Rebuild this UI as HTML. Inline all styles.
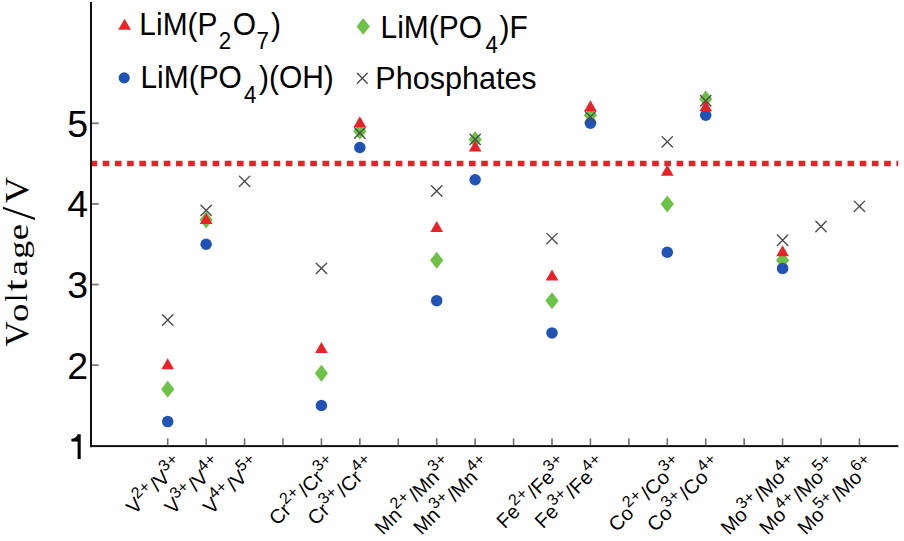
<!DOCTYPE html>
<html><head><meta charset="utf-8"><style>
html,body{margin:0;padding:0;background:#fff;}
svg{display:block;}
.tl{font-family:"Liberation Sans",sans-serif;font-size:37.5px;fill:#000;}
.yt{font-family:"Liberation Serif",serif;font-size:100px;fill:#000;}
.lg{font-family:"Liberation Sans",sans-serif;font-size:31.4px;fill:#000;}
.sb{font-size:21px;}
.xl{font-family:"Liberation Sans",sans-serif;font-size:20px;fill:#000;}
.sp{font-size:16px;}
.pl{font-size:16px;}
</style></head><body>
<svg width="904" height="541" viewBox="0 0 904 541">
<rect width="904" height="541" fill="#fff"/>
<line x1="90.5" y1="163.55" x2="898.2" y2="163.55" stroke="#ec2127" stroke-width="5.6" stroke-dasharray="6.6 5.61"/>
<rect x="90" y="2" width="2" height="445.2" fill="#111"/>
<rect x="90" y="445.1" width="808.4" height="2" fill="#111"/>
<rect x="92" y="364.27" width="6.7" height="1.8" fill="#7a7a7a"/>
<rect x="92" y="283.64" width="6.7" height="1.8" fill="#7a7a7a"/>
<rect x="92" y="203.01" width="6.7" height="1.8" fill="#7a7a7a"/>
<rect x="92" y="122.38" width="6.7" height="1.8" fill="#7a7a7a"/>
<rect x="166.90" y="438.3" width="1.6" height="7" fill="#707070"/>
<rect x="205.33" y="438.3" width="1.6" height="7" fill="#707070"/>
<rect x="243.76" y="438.3" width="1.6" height="7" fill="#707070"/>
<rect x="282.19" y="438.3" width="1.6" height="7" fill="#707070"/>
<rect x="320.62" y="438.3" width="1.6" height="7" fill="#707070"/>
<rect x="359.05" y="438.3" width="1.6" height="7" fill="#707070"/>
<rect x="397.48" y="438.3" width="1.6" height="7" fill="#707070"/>
<rect x="435.91" y="438.3" width="1.6" height="7" fill="#707070"/>
<rect x="474.34" y="438.3" width="1.6" height="7" fill="#707070"/>
<rect x="512.77" y="438.3" width="1.6" height="7" fill="#707070"/>
<rect x="551.20" y="438.3" width="1.6" height="7" fill="#707070"/>
<rect x="589.63" y="438.3" width="1.6" height="7" fill="#707070"/>
<rect x="628.06" y="438.3" width="1.6" height="7" fill="#707070"/>
<rect x="666.49" y="438.3" width="1.6" height="7" fill="#707070"/>
<rect x="704.92" y="438.3" width="1.6" height="7" fill="#707070"/>
<rect x="743.35" y="438.3" width="1.6" height="7" fill="#707070"/>
<rect x="781.78" y="438.3" width="1.6" height="7" fill="#707070"/>
<rect x="820.21" y="438.3" width="1.6" height="7" fill="#707070"/>
<rect x="858.64" y="438.3" width="1.6" height="7" fill="#707070"/>
<path d="M167.70,380.86L174.30,389.36L167.70,397.86L161.10,389.36Z" fill="#6cc247"/>
<circle cx="167.70" cy="421.61" r="5.75" fill="#2153b5"/>
<path d="M162.50,314.82L172.90,325.22M172.90,314.82L162.50,325.22" stroke="#4a4a4a" stroke-width="1.4" stroke-linecap="round" fill="none"/>
<path d="M161.40,369.17L174.00,369.17L167.70,358.17Z" fill="#ec2127"/>
<path d="M206.13,211.54L212.73,220.04L206.13,228.54L199.53,220.04Z" fill="#6cc247"/>
<circle cx="206.13" cy="244.22" r="5.75" fill="#2153b5"/>
<path d="M200.93,205.16L211.33,215.56M211.33,205.16L200.93,215.56" stroke="#4a4a4a" stroke-width="1.4" stroke-linecap="round" fill="none"/>
<path d="M199.83,224.04L212.43,224.04L206.13,213.04Z" fill="#ec2127"/>
<path d="M239.36,176.13L249.76,186.53M249.76,176.13L239.36,186.53" stroke="#4a4a4a" stroke-width="1.4" stroke-linecap="round" fill="none"/>
<path d="M321.42,364.73L328.02,373.23L321.42,381.73L314.82,373.23Z" fill="#6cc247"/>
<circle cx="321.42" cy="405.48" r="5.75" fill="#2153b5"/>
<path d="M316.22,263.21L326.62,273.61M326.62,263.21L316.22,273.61" stroke="#4a4a4a" stroke-width="1.4" stroke-linecap="round" fill="none"/>
<path d="M315.12,353.04L327.72,353.04L321.42,342.04Z" fill="#ec2127"/>
<path d="M359.85,122.84L366.45,131.34L359.85,139.84L353.25,131.34Z" fill="#6cc247"/>
<circle cx="359.85" cy="147.47" r="5.75" fill="#2153b5"/>
<path d="M354.65,127.76L365.05,138.16M365.05,127.76L354.65,138.16" stroke="#4a4a4a" stroke-width="1.4" stroke-linecap="round" fill="none"/>
<path d="M353.55,127.28L366.15,127.28L359.85,116.28Z" fill="#ec2127"/>
<path d="M436.71,251.85L443.31,260.35L436.71,268.85L430.11,260.35Z" fill="#6cc247"/>
<circle cx="436.71" cy="300.67" r="5.75" fill="#2153b5"/>
<path d="M431.51,185.81L441.91,196.21M441.91,185.81L431.51,196.21" stroke="#4a4a4a" stroke-width="1.4" stroke-linecap="round" fill="none"/>
<path d="M430.41,232.10L443.01,232.10L436.71,221.10Z" fill="#ec2127"/>
<path d="M475.14,130.91L481.74,139.41L475.14,147.91L468.54,139.41Z" fill="#6cc247"/>
<circle cx="475.14" cy="179.72" r="5.75" fill="#2153b5"/>
<path d="M469.94,134.21L480.34,144.61M480.34,134.21L469.94,144.61" stroke="#4a4a4a" stroke-width="1.4" stroke-linecap="round" fill="none"/>
<path d="M468.84,151.47L481.44,151.47L475.14,140.47Z" fill="#ec2127"/>
<path d="M552.00,292.17L558.60,300.67L552.00,309.17L545.40,300.67Z" fill="#6cc247"/>
<circle cx="552.00" cy="332.92" r="5.75" fill="#2153b5"/>
<path d="M546.80,233.38L557.20,243.78M557.20,233.38L546.80,243.78" stroke="#4a4a4a" stroke-width="1.4" stroke-linecap="round" fill="none"/>
<path d="M545.70,280.48L558.30,280.48L552.00,269.48Z" fill="#ec2127"/>
<path d="M590.43,106.72L597.03,115.22L590.43,123.72L583.83,115.22Z" fill="#6cc247"/>
<circle cx="590.43" cy="123.28" r="5.75" fill="#2153b5"/>
<path d="M585.23,111.63L595.63,122.03M595.63,111.63L585.23,122.03" stroke="#4a4a4a" stroke-width="1.4" stroke-linecap="round" fill="none"/>
<path d="M584.13,111.15L596.73,111.15L590.43,100.15Z" fill="#ec2127"/>
<path d="M667.29,195.41L673.89,203.91L667.29,212.41L660.69,203.91Z" fill="#6cc247"/>
<circle cx="667.29" cy="252.29" r="5.75" fill="#2153b5"/>
<path d="M662.09,136.62L672.49,147.02M672.49,136.62L662.09,147.02" stroke="#4a4a4a" stroke-width="1.4" stroke-linecap="round" fill="none"/>
<path d="M660.99,175.66L673.59,175.66L667.29,164.66Z" fill="#ec2127"/>
<path d="M705.72,90.59L712.32,99.09L705.72,107.59L699.12,99.09Z" fill="#6cc247"/>
<circle cx="705.72" cy="115.22" r="5.75" fill="#2153b5"/>
<path d="M700.52,95.50L710.92,105.90M710.92,95.50L700.52,105.90" stroke="#4a4a4a" stroke-width="1.4" stroke-linecap="round" fill="none"/>
<path d="M699.42,111.15L712.02,111.15L705.72,100.15Z" fill="#ec2127"/>
<path d="M782.58,251.85L789.18,260.35L782.58,268.85L775.98,260.35Z" fill="#6cc247"/>
<circle cx="782.58" cy="268.41" r="5.75" fill="#2153b5"/>
<path d="M777.38,234.99L787.78,245.39M787.78,234.99L777.38,245.39" stroke="#4a4a4a" stroke-width="1.4" stroke-linecap="round" fill="none"/>
<path d="M776.28,256.29L788.88,256.29L782.58,245.29Z" fill="#ec2127"/>
<path d="M815.81,221.29L826.21,231.69M826.21,221.29L815.81,231.69" stroke="#4a4a4a" stroke-width="1.4" stroke-linecap="round" fill="none"/>
<path d="M854.24,201.13L864.64,211.53M864.64,201.13L854.24,211.53" stroke="#4a4a4a" stroke-width="1.4" stroke-linecap="round" fill="none"/>
<text x="88" y="378.57" text-anchor="end" class="tl">2</text>
<text x="88" y="297.94" text-anchor="end" class="tl">3</text>
<text x="88" y="217.31" text-anchor="end" class="tl">4</text>
<text x="88" y="136.68" text-anchor="end" class="tl">5</text>
<path d="M80.7,434.2L80.7,459.1L77.6,459.1L77.6,441.4L71.4,441.4L71.4,438.8C74.6,438.6 76.9,437.2 77.6,434.2Z" fill="#000"/>
<text transform="translate(27.78,346.39) rotate(-90) scale(0.3501,0.3403)" class="yt">V</text>
<text transform="translate(27.52,321.90) rotate(-90) scale(0.3681,0.2911)" class="yt">o</text>
<text transform="translate(27.20,301.62) rotate(-90) scale(0.2607,0.3127)" class="yt">l</text>
<text transform="translate(26.88,291.19) rotate(-90) scale(0.4290,0.3300)" class="yt">t</text>
<text transform="translate(26.93,276.16) rotate(-90) scale(0.3637,0.2797)" class="yt">a</text>
<text transform="translate(28.30,258.73) rotate(-90) scale(0.3562,0.2826)" class="yt">g</text>
<text transform="translate(27.61,240.22) rotate(-90) scale(0.3647,0.2952)" class="yt">e</text>
<text transform="translate(35.33,220.10) rotate(-90) scale(0.4787,0.4858)" class="yt">/</text>
<text transform="translate(28.08,203.21) rotate(-90) scale(0.3630,0.3463)" class="yt">V</text>
<path d="M118.20,29.85L131.00,29.85L124.60,18.75Z" fill="#ec2127"/>
<circle cx="124.20" cy="77.90" r="5.6" fill="#2153b5"/>
<path d="M363.20,18.10L369.80,26.40L363.20,34.70L356.60,26.40Z" fill="#6cc247"/>
<path d="M357.35,73.25L367.25,83.15M367.25,73.25L357.35,83.15" stroke="#4a4a4a" stroke-width="1.4" stroke-linecap="round" fill="none"/>
<text transform="translate(139.35,34.60) scale(0.95,1)" style="font-size:31.5px" class="lg">LiM(P</text>
<text transform="translate(218.68,49.40) scale(0.95,1)" style="font-size:23.5px" class="lg">2</text>
<text transform="translate(232.78,34.60) scale(0.95,1)" style="font-size:31.5px" class="lg">O</text>
<text transform="translate(256.56,49.40) scale(0.95,1)" style="font-size:23.5px" class="lg">7</text>
<text transform="translate(270.92,34.60) scale(0.95,1)" style="font-size:31.5px" class="lg">)</text>
<text transform="translate(140.45,88.40) scale(0.95,1)" style="font-size:31.5px" class="lg">LiM(PO</text>
<text transform="translate(243.99,103.10) scale(0.95,1)" style="font-size:23.5px" class="lg">4</text>
<text transform="translate(259.02,88.40) scale(0.95,1)" style="font-size:31.5px" class="lg">)(OH)</text>
<text transform="translate(380.55,38.40) scale(0.95,1)" style="font-size:31.5px" class="lg">LiM(PO</text>
<text transform="translate(485.39,53.30) scale(0.95,1)" style="font-size:23.5px" class="lg">4</text>
<text transform="translate(499.52,38.40) scale(0.95,1)" style="font-size:31.5px" class="lg">)F</text>
<text transform="translate(375.34,89.30) scale(0.97,1)" style="font-size:31.5px" class="lg">Phosphates</text>
<text transform="translate(184.19,465.69) rotate(-45)" text-anchor="end" class="xl">V<tspan dy="-9.1" class="sp">2</tspan><tspan dy="1.4" class="pl">+</tspan><tspan dy="7.7" dx="1.5">/V</tspan><tspan dy="-9.1" class="sp">3</tspan><tspan dy="1.4" class="pl">+</tspan></text>
<text transform="translate(222.62,465.69) rotate(-45)" text-anchor="end" class="xl">V<tspan dy="-9.1" class="sp">3</tspan><tspan dy="1.4" class="pl">+</tspan><tspan dy="7.7" dx="1.5">/V</tspan><tspan dy="-9.1" class="sp">4</tspan><tspan dy="1.4" class="pl">+</tspan></text>
<text transform="translate(261.05,465.69) rotate(-45)" text-anchor="end" class="xl">V<tspan dy="-9.1" class="sp">4</tspan><tspan dy="1.4" class="pl">+</tspan><tspan dy="7.7" dx="1.5">/V</tspan><tspan dy="-9.1" class="sp">5</tspan><tspan dy="1.4" class="pl">+</tspan></text>
<text transform="translate(337.91,465.69) rotate(-45)" text-anchor="end" class="xl">Cr<tspan dy="-9.1" class="sp">2</tspan><tspan dy="1.4" class="pl">+</tspan><tspan dy="7.7" dx="1.5">/Cr</tspan><tspan dy="-9.1" class="sp">3</tspan><tspan dy="1.4" class="pl">+</tspan></text>
<text transform="translate(376.34,465.69) rotate(-45)" text-anchor="end" class="xl">Cr<tspan dy="-9.1" class="sp">3</tspan><tspan dy="1.4" class="pl">+</tspan><tspan dy="7.7" dx="1.5">/Cr</tspan><tspan dy="-9.1" class="sp">4</tspan><tspan dy="1.4" class="pl">+</tspan></text>
<text transform="translate(453.20,465.69) rotate(-45)" text-anchor="end" class="xl">Mn<tspan dy="-9.1" class="sp">2</tspan><tspan dy="1.4" class="pl">+</tspan><tspan dy="7.7" dx="1.5">/Mn</tspan><tspan dy="-9.1" class="sp">3</tspan><tspan dy="1.4" class="pl">+</tspan></text>
<text transform="translate(491.63,465.69) rotate(-45)" text-anchor="end" class="xl">Mn<tspan dy="-9.1" class="sp">3</tspan><tspan dy="1.4" class="pl">+</tspan><tspan dy="7.7" dx="1.5">/Mn</tspan><tspan dy="-9.1" class="sp">4</tspan><tspan dy="1.4" class="pl">+</tspan></text>
<text transform="translate(568.49,465.69) rotate(-45)" text-anchor="end" class="xl">Fe<tspan dy="-9.1" class="sp">2</tspan><tspan dy="1.4" class="pl">+</tspan><tspan dy="7.7" dx="1.5">/Fe</tspan><tspan dy="-9.1" class="sp">3</tspan><tspan dy="1.4" class="pl">+</tspan></text>
<text transform="translate(606.92,465.69) rotate(-45)" text-anchor="end" class="xl">Fe<tspan dy="-9.1" class="sp">3</tspan><tspan dy="1.4" class="pl">+</tspan><tspan dy="7.7" dx="1.5">/Fe</tspan><tspan dy="-9.1" class="sp">4</tspan><tspan dy="1.4" class="pl">+</tspan></text>
<text transform="translate(683.78,465.69) rotate(-45)" text-anchor="end" class="xl">Co<tspan dy="-9.1" class="sp">2</tspan><tspan dy="1.4" class="pl">+</tspan><tspan dy="7.7" dx="1.5">/Co</tspan><tspan dy="-9.1" class="sp">3</tspan><tspan dy="1.4" class="pl">+</tspan></text>
<text transform="translate(722.21,465.69) rotate(-45)" text-anchor="end" class="xl">Co<tspan dy="-9.1" class="sp">3</tspan><tspan dy="1.4" class="pl">+</tspan><tspan dy="7.7" dx="1.5">/Co</tspan><tspan dy="-9.1" class="sp">4</tspan><tspan dy="1.4" class="pl">+</tspan></text>
<text transform="translate(799.07,465.69) rotate(-45)" text-anchor="end" class="xl">Mo<tspan dy="-9.1" class="sp">3</tspan><tspan dy="1.4" class="pl">+</tspan><tspan dy="7.7" dx="1.5">/Mo</tspan><tspan dy="-9.1" class="sp">4</tspan><tspan dy="1.4" class="pl">+</tspan></text>
<text transform="translate(837.50,465.69) rotate(-45)" text-anchor="end" class="xl">Mo<tspan dy="-9.1" class="sp">4</tspan><tspan dy="1.4" class="pl">+</tspan><tspan dy="7.7" dx="1.5">/Mo</tspan><tspan dy="-9.1" class="sp">5</tspan><tspan dy="1.4" class="pl">+</tspan></text>
<text transform="translate(875.93,465.69) rotate(-45)" text-anchor="end" class="xl">Mo<tspan dy="-9.1" class="sp">5</tspan><tspan dy="1.4" class="pl">+</tspan><tspan dy="7.7" dx="1.5">/Mo</tspan><tspan dy="-9.1" class="sp">6</tspan><tspan dy="1.4" class="pl">+</tspan></text>
</svg>
</body></html>
